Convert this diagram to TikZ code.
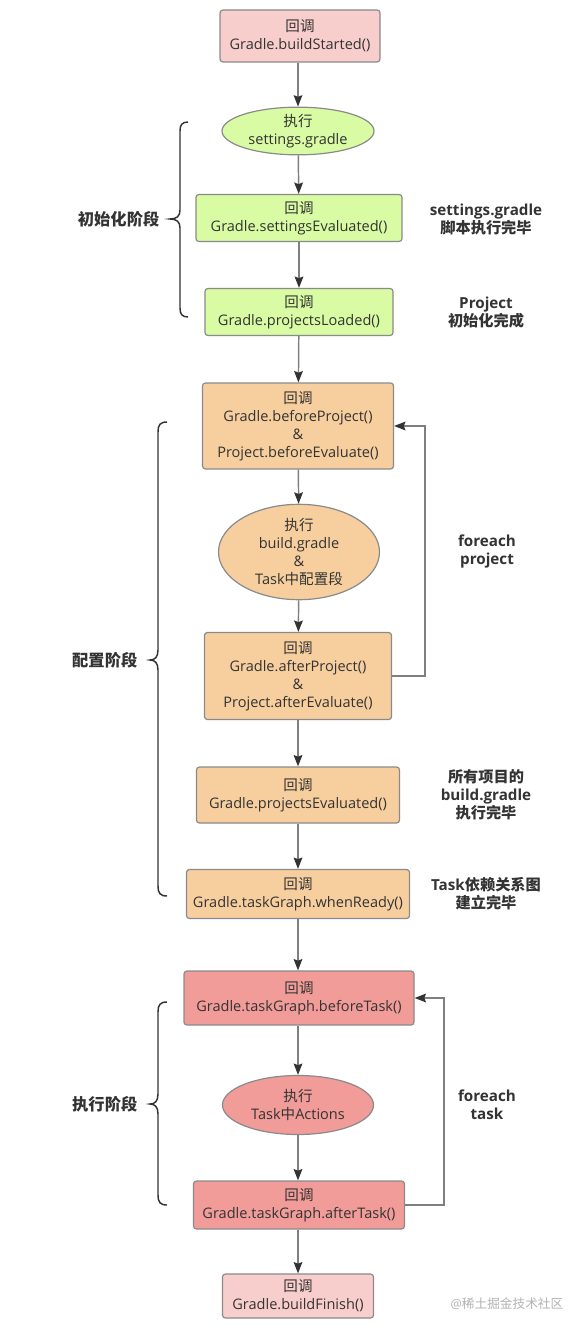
\documentclass[tikz,border=0pt]{standalone}
\usepackage{fontspec}
\setmainfont{Open Sans}
\newfontfamily\cjkfam{Noto Sans CJK SC}
\newcommand\zt[1]{{\cjkfam #1}}
\usetikzlibrary{arrows.meta,shapes.geometric}
\definecolor{pinkf}{HTML}{F8CECC}
\definecolor{greenf}{HTML}{D8FBA3}
\definecolor{orangef}{HTML}{F7CF9F}
\definecolor{redf}{HTML}{F19C99}
\definecolor{bordc}{HTML}{8A8A8A}
\definecolor{linec}{HTML}{7F7F7F}
\definecolor{tipc}{HTML}{333333}
\definecolor{txtc}{HTML}{333333}
\def\pxu{0.75pt}
\tikzset{
  box/.style={draw=bordc, line width=0.9pt, rounded corners=2.2pt, align=center, inner sep=0pt,
    font=\fontsize{10.9}{13.5}\selectfont, text=txtc},
  oval/.style={box, ellipse, rounded corners=0pt},
  arr/.style={draw=linec, line width=1.1pt, -{Stealth[length=8.5pt,width=6.5pt,inset=1.2pt,color=tipc]}},
  side/.style={align=center, font=\fontsize{11.4}{13.5}\selectfont\bfseries, text=txtc},
  phase/.style={font=\fontsize{12.2}{14}\selectfont\bfseries, text=txtc},
  brace/.style={draw=tipc, line width=1.1pt}
}
\begin{document}
\begin{tikzpicture}[x=0.75pt,y=-0.75pt]
\useasboundingbox (0,0) rectangle (586,1330);
% nodes
\node[box, fill=pinkf, minimum width=160*\pxu, minimum height=52*\pxu] (n1) at (300,36) {\zt{回调}\\Gradle.buildStarted()};
\node[oval, fill=greenf, minimum width=152*\pxu, minimum height=46*\pxu] (n2) at (298,131) {\zt{执行}\\settings.gradle};
\node[box, fill=greenf, minimum width=206*\pxu, minimum height=47*\pxu] (n3) at (299,218) {\zt{回调}\\Gradle.settingsEvaluated()};
\node[box, fill=greenf, minimum width=188*\pxu, minimum height=47*\pxu] (n4) at (299,312) {\zt{回调}\\Gradle.projectsLoaded()};
\node[box, fill=orangef, minimum width=191*\pxu, minimum height=86*\pxu] (n5) at (298,426) {\zt{回调}\\Gradle.beforeProject()\\\&\\Project.beforeEvaluate()};
\node[oval, fill=orangef, minimum width=161*\pxu, minimum height=82*\pxu] (n6) at (299,552) {\zt{执行}\\build.gradle\\\&\\Task\zt{中配置段}};
\node[box, fill=orangef, minimum width=187*\pxu, minimum height=87*\pxu] (n7) at (298,676) {\zt{回调}\\Gradle.afterProject()\\\&\\Project.afterEvaluate()};
\node[box, fill=orangef, minimum width=203*\pxu, minimum height=56*\pxu] (n8) at (298,795) {\zt{回调}\\Gradle.projectsEvaluated()};
\node[box, fill=orangef, minimum width=223*\pxu, minimum height=49*\pxu] (n9) at (298,894) {\zt{回调}\\Gradle.taskGraph.whenReady()};
\node[box, fill=redf, minimum width=230*\pxu, minimum height=54*\pxu] (n10) at (299,998) {\zt{回调}\\Gradle.taskGraph.beforeTask()};
\node[oval, fill=redf, minimum width=151*\pxu, minimum height=59*\pxu] (n11) at (298,1105) {\zt{执行}\\Task\zt{中}Actions};
\node[box, fill=redf, minimum width=211*\pxu, minimum height=48*\pxu] (n12) at (299,1205) {\zt{回调}\\Gradle.taskGraph.afterTask()};
\node[box, fill=pinkf, minimum width=151*\pxu, minimum height=44*\pxu] (n13) at (298,1296) {\zt{回调}\\Gradle.buildFinish()};
% arrows
\draw[arr] (n1.south -| 298,0) -- (n2);
\draw[arr] (n2) -- (n3);
\draw[arr] (n3) -- (n4);
\draw[arr] (n4) -- (n5);
\draw[arr] (n5) -- (n6);
\draw[arr] (n6) -- (n7);
\draw[arr] (n7) -- (n8);
\draw[arr] (n8) -- (n9);
\draw[arr] (n9) -- (n10.north -| n9.south);
\draw[arr] (n10.south -| n11.north) -- (n11);
\draw[arr] (n11) -- (n12.north -| n11.south);
\draw[arr] (n12.south -| n13.north) -- (n13);
% loops
\coordinate (lp1) at (425,426);
\draw[arr] (n7.east) -| (lp1) -- (n5.east);
\coordinate (lp2) at (444,998);
\draw[arr] (n12.east) -| (lp2) -- (n10.east);
% side labels
\node[side] (s1) at (486,220) {settings.gradle\\\zt{脚本执行完毕}};
\node[side] (s2) at (486,313) {Project\\\zt{初始化完成}};
\node[side] (s3) at (487,552) {foreach\\project};
\node[side] (s4) at (486,795) {\zt{所有项目的}\\build.gradle\\\zt{执行完毕}};
\node[side] (s5) at (486,894) {Task\zt{依赖关系图}\\\zt{建立完毕}};
\node[side] (s6) at (487,1105) {foreach\\task};
% braces
\draw[brace] (188,122) .. controls (182,122) and (180,125) .. (180,131) -- (180,210) .. controls (180,216) and (177,219) .. (170,219) .. controls (177,219) and (180,222) .. (180,228) -- (180,308) .. controls (180,314) and (182,317) .. (188,317);
\draw[brace] (167,422) .. controls (160,422) and (158,425) .. (158,432) -- (158,650) .. controls (158,657) and (155,660) .. (150,660) .. controls (155,660) and (158,663) .. (158,670) -- (158,886) .. controls (158,893) and (160,896) .. (167,896);
\draw[brace] (167,1002) .. controls (160,1002) and (158,1005) .. (158,1012) -- (158,1094) .. controls (158,1101) and (155,1104) .. (150,1104) .. controls (155,1104) and (158,1107) .. (158,1114) -- (158,1195) .. controls (158,1202) and (160,1205) .. (167,1205);
\node[phase, anchor=east] (p1) at (164,219) {\zt{初始化阶段}};
\node[phase, anchor=east] (p2) at (142,660) {\zt{配置阶段}};
\node[phase, anchor=east] (p3) at (142,1104) {\zt{执行阶段}};
% watermark
\node[anchor=east, text=black!30, font=\fontsize{9.5}{12}\selectfont] (wm) at (568,1304) {@\zt{稀土掘金技术社区}};
\end{tikzpicture}
\end{document}
